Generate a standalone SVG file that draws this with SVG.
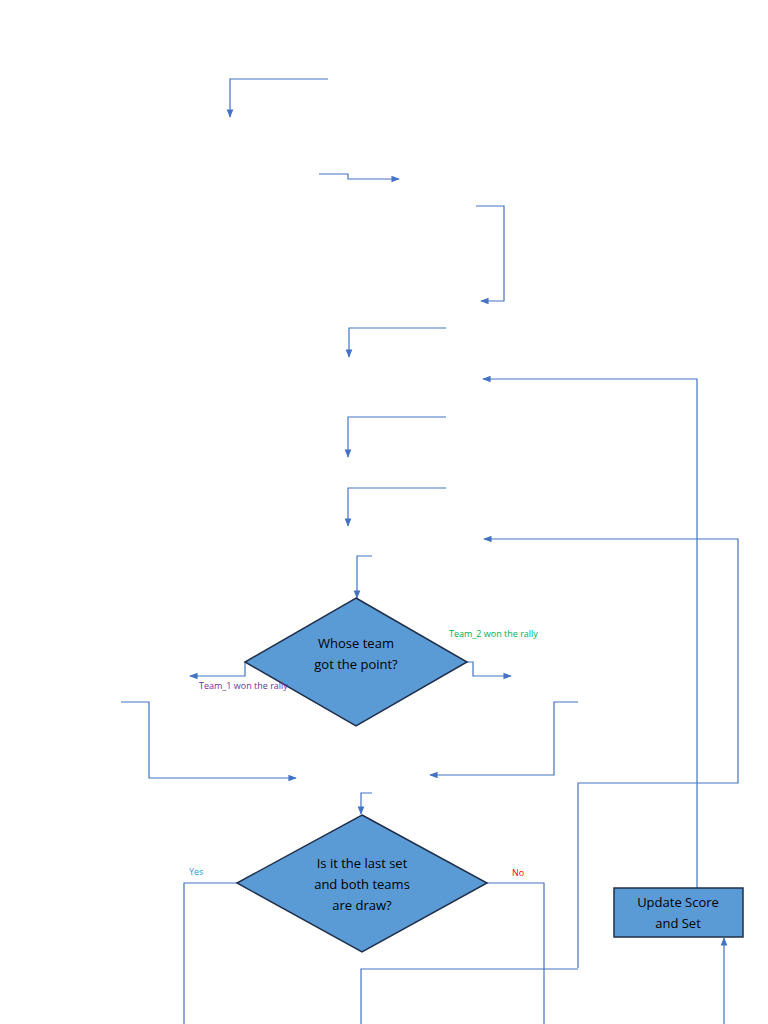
<svg xmlns="http://www.w3.org/2000/svg" width="768" height="1024" viewBox="0 0 768 1024">
<style>
.c{fill:none;stroke:#4472C4;stroke-width:1.2}
.n{fill:#5B9BD5;stroke:#1F2F4A;stroke-width:1.5}
.t{font-family:"Open Sans","Liberation Sans",sans-serif;font-size:13px;fill:#000;text-anchor:middle}
.s{font-family:"Open Sans","Liberation Sans",sans-serif;font-size:9px}
</style>
<defs><marker id="a" viewBox="0 0 10 10" refX="9" refY="5" markerWidth="7" markerHeight="7" orient="auto"><path d="M0,1 L10,5 L0,9 z" fill="#4472C4"/></marker></defs>
<rect width="768" height="1024" fill="#fff"/>
<g id="connectors">
<path class="c" marker-end="url(#a)" d="M328,79 H230 V117"/>
<path class="c" marker-end="url(#a)" d="M319,174 H348 V179 H399"/>
<path class="c" marker-end="url(#a)" d="M476,206 H504 V301 H481"/>
<path class="c" marker-end="url(#a)" d="M446,328 H349 V357"/>
<path class="c" marker-end="url(#a)" d="M697,888 V379 H483"/>
<path class="c" marker-end="url(#a)" d="M446,417 H348 V457"/>
<path class="c" marker-end="url(#a)" d="M446,488 H348 V526"/>
<path class="c" marker-end="url(#a)" d="M578,968 V783 H738 V539 H484"/>
<path class="c" marker-end="url(#a)" d="M372,556 H357 V598"/>
<path class="c" marker-end="url(#a)" d="M245,662 V676 H190"/>
<path class="c" marker-end="url(#a)" d="M467,662 H473 V676 H511"/>
<path class="c" marker-end="url(#a)" d="M121,702 H149 V778 H296"/>
<path class="c" marker-end="url(#a)" d="M578,702 H554 V775 H430"/>
<path class="c" marker-end="url(#a)" d="M372,793 H361 V814"/>
<path class="c" d="M237,883 H184 V1024"/>
<path class="c" d="M487,883 H544 V1024"/>
<path class="c" d="M361,1024 V969 H578"/>
<path class="c" marker-end="url(#a)" d="M724,1024 V938"/>
</g>
<g id="whose">
<polygon class="n" points="356,598 467,662 356,726 245,662"/>
<text class="t" x="356" y="648">Whose team</text>
<text class="t" x="356" y="669">got the point?</text>
</g>
<text class="s" x="449" y="637" fill="#00B050">Team_2 won the rally</text>
<text class="s" x="199" y="689" fill="#7030A0">Team_1 won the rally</text>
<g id="lastset">
<polygon class="n" points="362,815 487,883 362,952 237,883"/>
<text class="t" x="362" y="868">Is it the last set</text>
<text class="t" x="362" y="889">and both teams</text>
<text class="t" x="362" y="910">are draw?</text>
</g>
<text class="s" x="189" y="875" fill="#2E9BE0">Yes</text>
<text class="s" x="512" y="876" fill="#FF0000">No</text>
<g id="update">
<rect class="n" x="614" y="888" width="129" height="49"/>
<text class="t" x="678" y="907">Update Score</text>
<text class="t" x="678" y="928">and Set</text>
</g>
</svg>
